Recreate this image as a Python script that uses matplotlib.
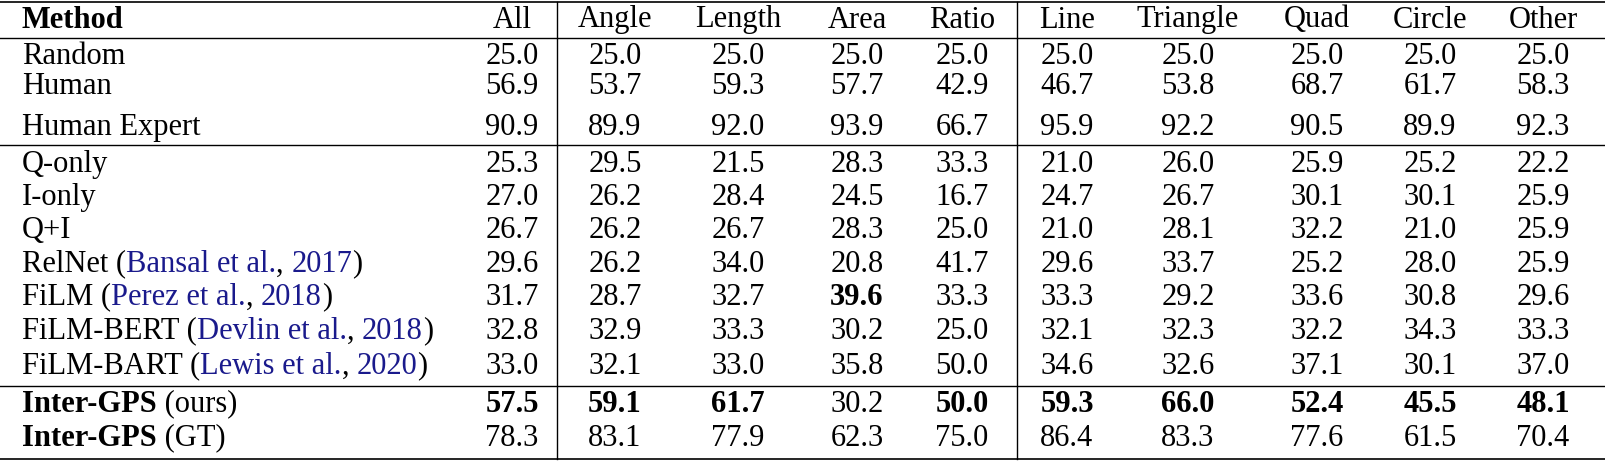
import matplotlib
matplotlib.use("Agg")
import matplotlib.pyplot as plt

plt.rcParams['font.family'] = ['Liberation Serif', 'DejaVu Serif']

columns = ["All", "Angle", "Length", "Area", "Ratio", "Line", "Triangle", "Quad", "Circle", "Other"]
# method label pieces: (text, style) style: n normal, b bold, c citation
methods = [
    [("Random", "n")],
    [("Human", "n")],
    [("Human Expert", "n")],
    [("Q-only", "n")],
    [("I-only", "n")],
    [("Q+I", "n")],
    [("RelNet (", "n"), ("Bansal et al.", "c"), (", ", "n"), ("2017", "c"), (")", "n")],
    [("FiLM (", "n"), ("Perez et al.", "c"), (", ", "n"), ("2018", "c"), (")", "n")],
    [("FiLM-BERT (", "n"), ("Devlin et al.", "c"), (", ", "n"), ("2018", "c"), (")", "n")],
    [("FiLM-BART (", "n"), ("Lewis et al.", "c"), (", ", "n"), ("2020", "c"), (")", "n")],
    [("Inter-GPS", "b"), (" (ours)", "n")],
    [("Inter-GPS", "b"), (" (GT)", "n")],
]
values = [
    [25.0, 25.0, 25.0, 25.0, 25.0, 25.0, 25.0, 25.0, 25.0, 25.0],
    [56.9, 53.7, 59.3, 57.7, 42.9, 46.7, 53.8, 68.7, 61.7, 58.3],
    [90.9, 89.9, 92.0, 93.9, 66.7, 95.9, 92.2, 90.5, 89.9, 92.3],
    [25.3, 29.5, 21.5, 28.3, 33.3, 21.0, 26.0, 25.9, 25.2, 22.2],
    [27.0, 26.2, 28.4, 24.5, 16.7, 24.7, 26.7, 30.1, 30.1, 25.9],
    [26.7, 26.2, 26.7, 28.3, 25.0, 21.0, 28.1, 32.2, 21.0, 25.9],
    [29.6, 26.2, 34.0, 20.8, 41.7, 29.6, 33.7, 25.2, 28.0, 25.9],
    [31.7, 28.7, 32.7, 39.6, 33.3, 33.3, 29.2, 33.6, 30.8, 29.6],
    [32.8, 32.9, 33.3, 30.2, 25.0, 32.1, 32.3, 32.2, 34.3, 33.3],
    [33.0, 32.1, 33.0, 35.8, 50.0, 34.6, 32.6, 37.1, 30.1, 37.0],
    [57.5, 59.1, 61.7, 30.2, 50.0, 59.3, 66.0, 52.4, 45.5, 48.1],
    [78.3, 83.1, 77.9, 62.3, 75.0, 86.4, 83.3, 77.6, 61.5, 70.4],
]
bold_cells = [(7, 3), (10, 0), (10, 1), (10, 2), (10, 4), (10, 5), (10, 6), (10, 7), (10, 8), (10, 9)]

col_x = [512, 615, 738, 857, 962, 1067, 1188, 1317, 1430, 1543]
row_y = [56, 87, 127, 164, 197, 230, 264, 297, 331, 366, 404, 438]
fs = 22
cite_color = "#1a1a8c"

fig = plt.figure(figsize=(16.06, 4.61), dpi=100)
ax = fig.add_axes([0, 0, 1, 1])
ax.set_xlim(0, 1606)
ax.set_ylim(461, 0)
ax.axis("off")

ax.text(22, 20, "Method", fontsize=fs, fontweight="bold", va="center")
for c, x in zip(columns, col_x):
    ax.text(x, 20, c, fontsize=fs, ha="center", va="center")

renderer = fig.canvas.get_renderer()
for i, parts in enumerate(methods):
    x = 22
    for txt, st in parts:
        t = ax.text(x, row_y[i], txt, fontsize=fs, va="center",
                    fontweight="bold" if st == "b" else "normal",
                    color=cite_color if st == "c" else "black")
        bb = t.get_window_extent(renderer)
        x += bb.width * 1606 / fig.bbox.width
    for j, v in enumerate(values[i]):
        ax.text(col_x[j], row_y[i], f"{v:.1f}", fontsize=fs, ha="center", va="center",
                fontweight="bold" if (i, j) in bold_cells else "normal")

for y, lw in [(2, 1.2), (38, 1.0), (145, 1.0), (386, 1.0), (459, 1.2)]:
    ax.plot([0, 1606], [y, y], color="black", lw=lw)
for x in [557, 1017]:
    ax.plot([x, x], [2, 459], color="black", lw=1.0)

fig.savefig("out.png", dpi=100)
